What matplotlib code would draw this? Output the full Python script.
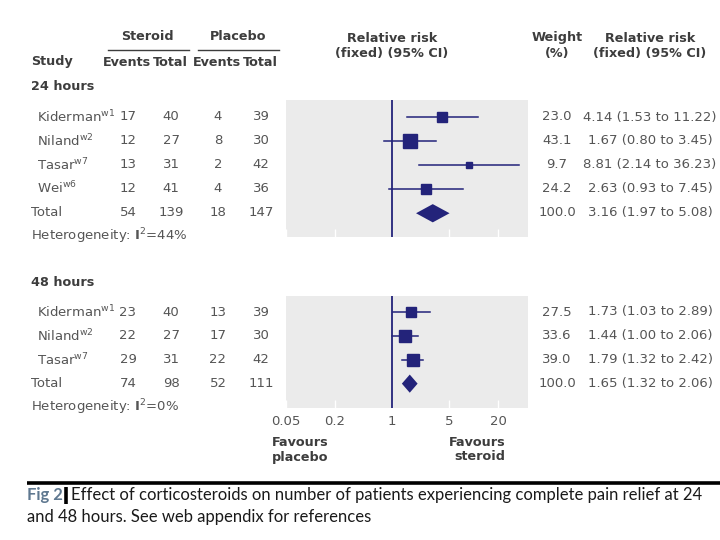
import numpy as np
import matplotlib
matplotlib.use("Agg")
import matplotlib.pyplot as plt

plt.rcParams['font.family'] = ['DejaVu Sans']
plt.rcParams['mathtext.fontset'] = 'dejavusans'

# --- Data: 24 hours ---
studies_24 = ["Kiderman", "Niland", "Tasar", "Wei"]
refs_24 = ["w1", "w2", "w7", "w6"]
ster_ev_24 = [17, 12, 13, 12]
ster_tot_24 = [40, 27, 31, 41]
plac_ev_24 = [4, 8, 2, 4]
plac_tot_24 = [39, 30, 42, 36]
weight_24 = [23.0, 43.1, 9.7, 24.2]
rr_24 = [4.14, 1.67, 8.81, 2.63]
lo_24 = [1.53, 0.80, 2.14, 0.93]
hi_24 = [11.22, 3.45, 36.23, 7.45]
total_24 = [54, 139, 18, 147]
total_weight_24 = 100.0
pooled_24 = [3.16, 1.97, 5.08]
i2_24 = 44

# --- Data: 48 hours ---
studies_48 = ["Kiderman", "Niland", "Tasar"]
refs_48 = ["w1", "w2", "w7"]
ster_ev_48 = [23, 22, 29]
ster_tot_48 = [40, 27, 31]
plac_ev_48 = [13, 17, 22]
plac_tot_48 = [39, 30, 42]
weight_48 = [27.5, 33.6, 39.0]
rr_48 = [1.73, 1.44, 1.79]
lo_48 = [1.03, 1.00, 1.32]
hi_48 = [2.89, 2.06, 2.42]
total_48 = [74, 98, 52, 111]
total_weight_48 = 100.0
pooled_48 = [1.65, 1.32, 2.06]
i2_48 = 0

xticks = [0.05, 0.2, 1, 5, 20]
xtick_labels = ["0.05", "0.2", "1", "5", "20"]

NAVY = "#23237a"
PANEL = "#ebebeb"
GREY = "#555555"
HEAD = "#3d3d3d"

W, H = 720, 540
fig = plt.figure(figsize=(7.2, 5.4), dpi=100)
fig.patch.set_facecolor("white")

# full-figure axes in pixel coordinates for the table text
tx = fig.add_axes([0, 0, 1, 1])
tx.set_xlim(0, W)
tx.set_ylim(H, 0)
tx.axis("off")

FS = 9.5
HFS = 9.2

def txt(x, y, s, ha="center", bold=False, color=None, size=None):
    tx.text(x, y, s, ha=ha, va="center", fontsize=size or (HFS if bold else FS),
            fontweight="bold" if bold else "normal",
            color=color or (HEAD if bold else GREY))

# --- headers ---
txt(147, 37, "Steroid", bold=True)
txt(238, 37, "Placebo", bold=True)
tx.plot([108, 189], [49.5, 49.5], color=HEAD, lw=1.0)
tx.plot([198, 279], [49.5, 49.5], color=HEAD, lw=1.0)
txt(31, 62, "Study", ha="left", bold=True)
for cx, lab in zip([127, 170, 217, 260], ["Events", "Total", "Events", "Total"]):
    txt(cx, 62, lab, bold=True)
txt(392, 38, "Relative risk", bold=True)
txt(392, 54, "(fixed) (95% CI)", bold=True)
txt(557, 38, "Weight", bold=True)
txt(557, 54, "(%)", bold=True)
txt(650, 38, "Relative risk", bold=True)
txt(650, 54, "(fixed) (95% CI)", bold=True)

col_x = [128, 171, 218, 261]

def table_block(y_head, head, y0, studies, refs, cols, totals, weights, tot_w,
                rr, lo, hi, pooled, i2):
    txt(31, y_head, head, ha="left", bold=True)
    n = len(studies)
    for i in range(n):
        y = y0 + 23.8 * i
        txt(37, y, studies[i] + r"$^{\mathrm{" + refs[i] + "}}$", ha="left")
        for cx, c in zip(col_x, cols):
            txt(cx, y, str(c[i]))
        txt(557, y, f"{weights[i]:.1f}")
        txt(650, y, f"{rr[i]:.2f} ({lo[i]:.2f} to {hi[i]:.2f})")
    y = y0 + 23.8 * n
    txt(31, y, "Total", ha="left")
    for cx, t in zip(col_x, totals):
        txt(cx, y, str(t))
    txt(557, y, f"{tot_w:.1f}")
    txt(650, y, f"{pooled[0]:.2f} ({pooled[1]:.2f} to {pooled[2]:.2f})")
    txt(31, y + 23.5, r"Heterogeneity: $\mathbf{I}^2$=" + f"{i2}%", ha="left")

table_block(87, "24 hours", 117, studies_24, refs_24,
            [ster_ev_24, ster_tot_24, plac_ev_24, plac_tot_24], total_24,
            weight_24, total_weight_24, rr_24, lo_24, hi_24, pooled_24, i2_24)
table_block(282, "48 hours", 312, studies_48, refs_48,
            [ster_ev_48, ster_tot_48, plac_ev_48, plac_tot_48], total_48,
            weight_48, total_weight_48, rr_48, lo_48, hi_48, pooled_48, i2_48)

# --- forest panels ---
def panel(top, bottom, rr, lo, hi, weights, pooled, pad_top, pad_bot, labels):
    ax = fig.add_axes([286 / W, 1 - bottom / H, (528 - 286) / W, (bottom - top) / H])
    ax.set_facecolor(PANEL)
    n = len(rr)
    ax.set_xscale("log")
    ax.set_xlim(0.05, 46.6)
    ax.set_ylim(n + pad_bot, -pad_top)
    for s in ax.spines.values():
        s.set_visible(False)
    ax.axvline(1, color=NAVY, lw=1.3, zorder=2)
    ys = np.arange(n)
    for y, r, l, h, w in zip(ys, rr, lo, hi, weights):
        ax.plot([l, h], [y, y], color=NAVY, lw=1.1, zorder=3)
        ax.plot(r, y, marker="s", color=NAVY, ms=1.48 * np.sqrt(w), zorder=4)
    p, pl, ph = pooled
    ax.fill([pl, p, ph, p], [n, n - 0.38, n, n + 0.38], color=NAVY, lw=0, zorder=4)
    ax.set_yticks([])
    ax.set_xticks(xticks)
    ax.minorticks_off()
    ax.tick_params(axis="x", direction="in", length=6, width=1, color="white",
                   pad=5, labelsize=FS, labelcolor=GREY)
    if labels:
        ax.set_xticklabels(xtick_labels)
    else:
        ax.set_xticklabels([])
    return ax

panel(100, 237, rr_24, lo_24, hi_24, weight_24, pooled_24, 0.72, 0.99, False)
panel(296, 408, rr_48, lo_48, hi_48, weight_48, pooled_48, 0.67, 1.02, True)

txt(272, 442, "Favours", ha="left", bold=True)
txt(272, 457, "placebo", ha="left", bold=True)
txt(505, 442, "Favours", ha="right", bold=True)
txt(505, 457, "steroid", ha="right", bold=True)

# --- caption ---
tx.plot([27, 720], [482.5, 482.5], color="black", lw=2.6, solid_capstyle="butt")
cap_font = ["Lato", "DejaVu Sans"]
CFS = 12
t1 = tx.text(27, 495, "Fig 2", ha="left", va="center", fontsize=CFS, fontweight="bold",
             color="#5f7890", family=cap_font)
fig.canvas.draw()
bb = t1.get_window_extent().transformed(tx.transData.inverted())
xb = bb.x1 + 3
tx.plot([xb, xb], [487, 504], color="black", lw=2.6, solid_capstyle="butt")
tx.text(xb + 5, 495, "Effect of corticosteroids on number of patients experiencing complete pain relief at 24",
        ha="left", va="center", fontsize=CFS, color="#1a1a1a", family=cap_font)
tx.text(27, 517, "and 48 hours. See web appendix for references",
        ha="left", va="center", fontsize=CFS, color="#1a1a1a", family=cap_font)

fig.savefig("out.png", dpi=100, facecolor="white")
